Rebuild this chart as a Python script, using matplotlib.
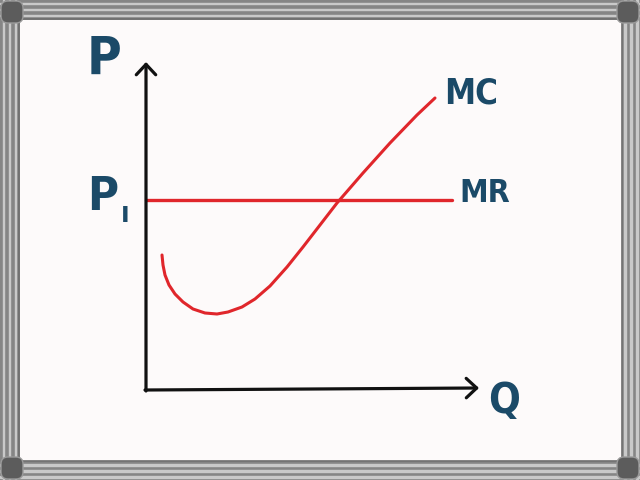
#!/usr/bin/env python3
"""Whiteboard sketch: firm's MC curve against a flat MR = P1 line."""

import matplotlib

matplotlib.use("Agg")
import matplotlib.pyplot as plt
from matplotlib import font_manager
from matplotlib.patches import FancyBboxPatch, Rectangle

# quantity / price units measured from the origin of the sketch
MC_Q = [16, 17, 19, 23, 29, 37, 47, 59, 71, 82, 96, 109, 124, 141, 157, 174,
        191, 217, 244, 271, 289]
MC_P = [135, 125, 115, 105, 96, 88, 81, 77, 76, 78, 83, 91, 104, 123, 143, 165,
        187, 217, 247, 275, 292]
MR_Q = [0, 306]
P1 = 190
P_AXIS_MAX = 328
Q_AXIS_MAX = 333

INK = "#111111"
RED = "#e0262b"
LABEL = "#1b4a68"
BOARD = "#fdfafa"

installed = {f.name for f in font_manager.fontManager.ttflist}
if "Liberation Sans Narrow" in installed:
    FONT = dict(family="Liberation Sans Narrow", fontweight="bold", color=LABEL)
else:
    FONT = dict(family="DejaVu Sans", fontweight="bold", fontstretch="condensed", color=LABEL)

fig = plt.figure(figsize=(6.4, 4.8), dpi=100)

# whiteboard frame (pixel coords)
bg = fig.add_axes([0, 0, 1, 1])
bg.set_xlim(0, 640)
bg.set_ylim(480, 0)
bg.axis("off")
bg.add_patch(Rectangle((0, 0), 640, 480, color="#858585", zorder=0))
bg.add_patch(Rectangle((20, 20), 601, 440, color=BOARD, zorder=1))
for off in (2.5, 8.5, 14.5):
    bg.add_patch(Rectangle((0, off), 640, 1.6, color="#c9c9c9", zorder=0.5))
    bg.add_patch(Rectangle((0, 480 - off - 1.6), 640, 1.6, color="#c9c9c9", zorder=0.5))
    bg.add_patch(Rectangle((off, 0), 1.6, 480, color="#c9c9c9", zorder=0.5))
    bg.add_patch(Rectangle((640 - off - 1.6, 0), 1.6, 480, color="#c9c9c9", zorder=0.5))
bg.add_patch(Rectangle((19, 19), 603, 442, fill=False, edgecolor="#6d6d6d", lw=1.2, zorder=1.5))
for cx, cy in ((12, 12), (628, 12), (12, 468), (628, 468)):
    bg.add_patch(FancyBboxPatch((cx - 9, cy - 9), 18, 18, boxstyle="round,pad=2,rounding_size=7",
                                facecolor="#5c5c5c", edgecolor="#9a9a9a", lw=1.0, zorder=2))

# the sketch itself
ax = fig.add_axes([0, 0, 1, 1])
ax.set_xlim(-146, 494)
ax.set_ylim(-90, 390)
ax.axis("off")
ax.patch.set_alpha(0)

arrow = dict(arrowstyle="->,head_length=0.75,head_width=0.7", color=INK, lw=2.3,
             shrinkA=0, shrinkB=0, capstyle="round", joinstyle="round")
ax.annotate("", xy=(0, P_AXIS_MAX), xytext=(0, -1), arrowprops=arrow)
ax.annotate("", xy=(Q_AXIS_MAX, 2), xytext=(-1, 0), arrowprops=arrow)

ax.plot(MR_Q, [P1, P1], color=RED, lw=2.4, solid_capstyle="round")
ax.plot(MC_Q, MC_P, color=RED, lw=2.2, solid_capstyle="round", solid_joinstyle="round")

ax.text(-42, 330, "P", ha="center", va="center", fontsize=38, **FONT)
ax.text(-43, 192, "P", ha="center", va="center", fontsize=34, **FONT)
ax.text(-21, 176, "ı", ha="center", va="center", fontsize=20, **FONT)
ax.text(325, 296, "MC", ha="center", va="center", fontsize=25, **FONT)
ax.text(339, 196, "MR", ha="center", va="center", fontsize=23, **FONT)
ax.text(358, -11, "Q", ha="center", va="center", fontsize=30, **FONT)

fig.savefig("out.png", dpi=100, facecolor="white")
